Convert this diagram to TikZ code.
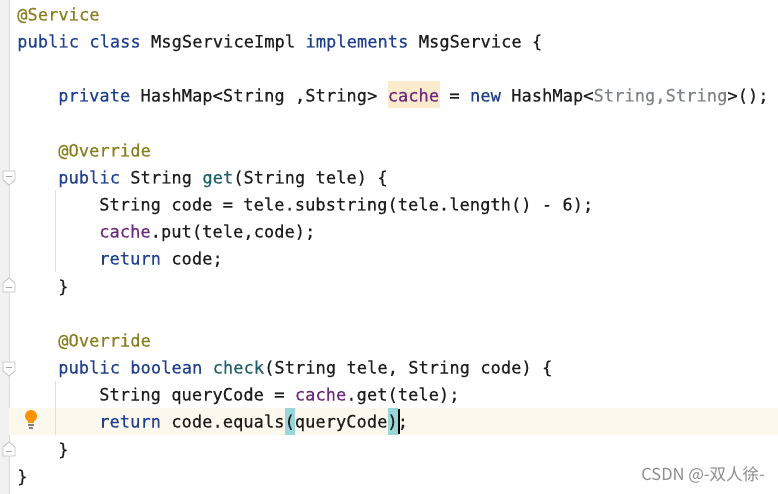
\documentclass[tikz,border=0pt]{standalone}
\usepackage{fontspec}
\setmonofont[FakeBold=0.25]{DejaVu Sans Mono}
\newfontfamily\cjkwm{Noto Sans CJK SC}
\usetikzlibrary{calc}
\definecolor{kwcol}{HTML}{1F3F8F}
\definecolor{ancol}{HTML}{8A7F20}
\definecolor{fdcol}{HTML}{6E2A7E}
\definecolor{txcol}{HTML}{1E1E1E}
\definecolor{gncol}{HTML}{808486}
\definecolor{mtcol}{HTML}{1F5F6B}
\definecolor{gutcol}{HTML}{F1F1F1}
\definecolor{lincol}{HTML}{FDF8EE}
\definecolor{cchcol}{HTML}{FAEBCD}
\definecolor{parcol}{HTML}{98D6DA}
\newcommand{\kw}[1]{\textcolor{kwcol}{#1}}
\newcommand{\fd}[1]{\textcolor{fdcol}{#1}}
\newcommand{\gn}[1]{\textcolor{gncol}{#1}}
\newcommand{\mt}[1]{\textcolor{mtcol}{#1}}
\tikzset{
  codeline/.style={anchor=base west,inner sep=0pt,text=txcol,font=\fontsize{17.1}{20}\ttfamily},
  annot/.style={codeline,text=ancol},
  foldmark/.style={draw=black!25,fill=white,line width=0.8pt},
}
\begin{document}
\begin{tikzpicture}[x=1pt,y=-1pt]
	\useasboundingbox (0,0) rectangle (778,494);
	\fill[white] (0,0) rectangle (778,494);
	
	\fill[gutcol] (0,0) rectangle (9,494);
	\draw[black!15,line width=0.6pt] (9,0) -- (9,494);
	\fill[lincol] (9,408) rectangle (778,435);
	\fill[cchcol] (388,81) rectangle (440,108);
	\fill[parcol] (285,408) rectangle (295,435);
	\fill[parcol] (388,408) rectangle (398,435);
	\draw[black!12,line width=0.6pt] (55,190) -- (55,272);
	\draw[black!12,line width=0.6pt] (55,381) -- (55,435);
	
	\node[annot] (service) at (17,20.5) {@Service};
	\node[codeline] (classline) at (17,47.5) {\kw{public class} MsgServiceImpl \kw{implements} MsgService \{};
	\node[codeline] (fieldline) at (58,101.5) {\kw{private} HashMap<String ,String> \fd{cache} = \kw{new} HashMap<\gn{String,String}>();};
	\node[annot] (overone) at (58,156.5) {@Override};
	\node[codeline] (getline) at (58,183.5) {\kw{public} String \mt{get}(String tele) \{};
	\node[codeline] (codeline) at (99,210.5) {String code = tele.substring(tele.length() - 6);};
	\node[codeline] (putline) at (99,237.5) {\fd{cache}.put(tele,code);};
	\node[codeline] (retone) at (99,264.5) {\kw{return} code;};
	\node[codeline] (closeone) at (58,292.5) {\}};
	\node[annot] (overtwo) at (58,346.5) {@Override};
	\node[codeline] (checkline) at (58,373.5) {\kw{public boolean} \mt{check}(String tele, String code) \{};
	\node[codeline] (queryline) at (99,400.5) {String queryCode = \fd{cache}.get(tele);};
	\node[codeline] (rettwo) at (99,427.5) {\kw{return} code.equals(queryCode);};
	\node[codeline] (closetwo) at (58,455.5) {\}};
	\node[codeline] (closeall) at (17,482.5) {\}};
	
	\fill[black] (398,409) rectangle (400,434);
	
	% fold markers
	\draw[foldmark] (3,171) -- (15,171) -- (15,180) -- (9,185) -- (3,180) -- cycle;
	\draw[black!35] (6,176) -- (12,176);
	\draw[foldmark] (3,362) -- (15,362) -- (15,371) -- (9,376) -- (3,371) -- cycle;
	\draw[black!35] (6,367) -- (12,367);
	\draw[foldmark] (3,292) -- (15,292) -- (15,283) -- (9,278) -- (3,283) -- cycle;
	\draw[black!35] (6,287) -- (12,287);
	\draw[foldmark] (3,456) -- (15,456) -- (15,447) -- (9,442) -- (3,447) -- cycle;
	\draw[black!35] (6,451) -- (12,451);
	
	% bulb
	\fill[orange!85!yellow] (31,416) circle (6);
	\fill[orange!85!yellow] (28,419) rectangle (34,423);
	\fill[black!50] (28,424) rectangle (34,426);
	\fill[black!50] (29,427) rectangle (33,428.5);
	
	\node[anchor=base east,inner sep=0pt,text=black!45,font=\fontsize{16.5}{18}\cjkwm] (mark) at (765,480) {CSDN @-双人徐-};
\end{tikzpicture}
\end{document}
